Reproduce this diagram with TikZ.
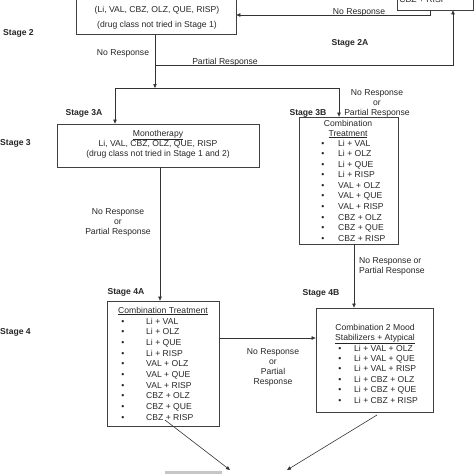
\documentclass[tikz,border=0pt]{standalone}
\usepackage{fontspec}
\setmainfont{Liberation Sans}
\usetikzlibrary{arrows.meta}
\begin{document}
\begin{tikzpicture}[x=1pt,y=-1pt,
  ln/.style={draw=black!80, line width=0.6pt},
  arr/.style={ln, -{Triangle[length=4pt,width=3.4pt]}},
  box/.style={draw=black!75, line width=0.7pt, inner sep=0pt},
  txt/.style={inner sep=0pt, text height=6.2pt, text depth=0pt, font=\fontsize{8.6}{10}\selectfont, text=black!85},
  lbl/.style={inner sep=0pt, align=center, font=\fontsize{8.6}{10}\selectfont, text=black!85},
  stg/.style={txt, font=\fontsize{8.6}{10}\selectfont\bfseries},
]
\useasboundingbox (0,0) rectangle (474,474);
\begin{scope}
\clip (0,0) rectangle (474,474);
% ---------- boxes
\node[box, minimum width=160pt, minimum height=54pt] (b2) at (156,7) {};
\node[box, minimum width=76pt, minimum height=30pt] (b2a) at (435,-5) {};
\node[box, minimum width=202pt, minimum height=43pt] (b3a) at (158,145.5) {};
\node[box, minimum width=99pt, minimum height=127pt] (b3b) at (348.5,180.5) {};
\node[box, minimum width=112pt, minimum height=125pt] (b4a) at (163,363.5) {};
\node[box, minimum width=117pt, minimum height=104pt] (b4b) at (374.5,360) {};
\node[fill=black!22, inner sep=0pt, minimum width=57pt, minimum height=6pt] (b5) at (193.5,474) {};

% ---------- box texts
\node[txt] (t2a) at (157,9) {(Li, VAL, CBZ, OLZ, QUE, RISP)};
\node[txt] (t2b) at (157,24) {(drug class not tried in Stage 1)};
\node[txt] (t2c) at (423,-0.5) {CBZ + RISP};

\node[txt] (t3a1) at (158,133) {\underline{Monotherapy}};
\node[txt] (t3a2) at (158,143) {Li, VAL, CBZ, OLZ, QUE, RISP};
\node[txt] (t3a3) at (158,153) {(drug class not tried in Stage 1 and 2)};

\node[txt] (t3b1) at (348,123) {Combination};
\node[txt] (t3b2) at (348,133) {\underline{Treatment}};
\foreach \s [count=\i from 0] in {Li + VAL, Li + OLZ, Li + QUE, Li + RISP, VAL + OLZ, VAL + QUE, VAL + RISP, CBZ + OLZ, CBZ + QUE, CBZ + RISP}{
  \node[txt] (p3b\i) at (323,143+10.56*\i) {\textbullet};
  \node[txt, anchor=west] (i3b\i) at (338,143+10.56*\i) {\s};
}

\node[txt] (t4a1) at (163,310) {\underline{Combination Treatment}};
\foreach \s [count=\i from 0] in {Li + VAL, Li + OLZ, Li + QUE, Li + RISP, VAL + OLZ, VAL + QUE, VAL + RISP, CBZ + OLZ, CBZ + QUE, CBZ + RISP}{
  \node[txt] (p4a\i) at (123,321+10.67*\i) {\textbullet};
  \node[txt, anchor=west] (i4a\i) at (146,321+10.67*\i) {\s};
}

\node[txt] (t4b1) at (375,327) {Combination 2 Mood};
\node[txt] (t4b2) at (375,337) {\underline{Stabilizers + Atypical}};
\foreach \s [count=\i from 0] in {Li + VAL + OLZ, Li + VAL + QUE, Li + VAL + RISP, Li + CBZ + OLZ, Li + CBZ + QUE, Li + CBZ + RISP}{
  \node[txt] (p4b\i) at (340,348+10.4*\i) {\textbullet};
  \node[txt, anchor=west] (i4b\i) at (354,348+10.4*\i) {\s};
}

% ---------- stage labels
\node[stg, anchor=west] (s2) at (3,32) {Stage 2};
\node[stg] (s2a) at (350,42) {Stage 2A};
\node[stg] (s3a) at (84,112) {Stage 3A};
\node[stg] (s3b) at (308,112) {Stage 3B};
\node[stg, anchor=west] (s3) at (0,142) {Stage 3};
\node[stg] (s4a) at (126,291) {Stage 4A};
\node[stg] (s4b) at (321,292) {Stage 4B};
\node[stg, anchor=west] (s4) at (0,331) {Stage 4};

% ---------- connectors
\coordinate (nr) at (430,15);
\draw[arr] (b2a.south -| nr) |- (b2.east |- nr);
\node[txt] (lnr) at (359,11) {No Response};

\coordinate (j3) at (155,88);
\coordinate (jp) at (155,65);
\coordinate (pr) at (453,65);
\draw[arr] (b2.south -| j3) -- (j3);
\draw[arr] (jp) -- (pr) -- (b2a.south -| pr);
\node[txt] (lnr2) at (123,52) {No Response};
\node[txt] (lpr) at (225,61) {Partial Response};

\coordinate (sl) at (115,88);
\coordinate (sr) at (339,88);
\draw[ln] (sl) -- (sr);
\draw[arr] (sl) -- (b3a.north -| sl);
\draw[arr] (sr) -- (b3b.north -| sr);
\node[lbl] (l3b) at (377,103) {No Response\\or\\Partial Response};

\coordinate (c3a) at (160,0);
\draw[arr] (b3a.south -| c3a) -- (b4a.north -| c3a);
\node[lbl] (l4a) at (118,222) {No Response\\or\\Partial Response};

\coordinate (c3b) at (354,0);
\draw[arr] (b3b.south -| c3b) -- (b4b.north -| c3b);
\node[lbl, align=left, anchor=north west] (l4b) at (359,257) {No Response or\\Partial Response};

\coordinate (c44) at (0,338);
\draw[arr] (b4a.east |- c44) -- (b4b.west |- c44);
\node[lbl] (l44) at (273,367) {No Response\\or\\Partial\\Response};

\coordinate (d1) at (165,420);
\coordinate (e1) at (230,470);
\coordinate (d2) at (377,415);
\coordinate (e2) at (287,470);
\draw[arr] (d1) -- (e1);
\draw[arr] (d2) -- (e2);
\end{scope}
\end{tikzpicture}
\end{document}
